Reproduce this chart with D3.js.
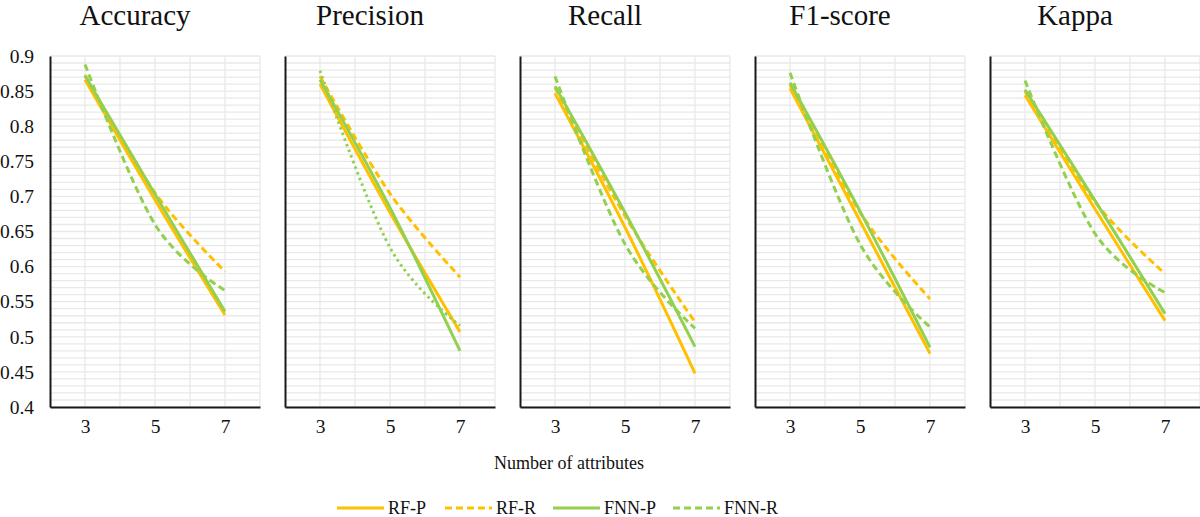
<!DOCTYPE html>
<html>
<head>
<meta charset="utf-8">
<script src="https://cdn.jsdelivr.net/npm/d3@7"></script>
<style>
  body { margin: 0; background: #fff; }
  svg { display: block; }
  svg text { font-family: "Liberation Serif", "Times New Roman", serif; fill: #111; }
</style>
</head>
<body>
<div id="chart"></div>
<script>
// data, one row per metric, values at 3, 5, 7 attributes
const metrics = ["Accuracy", "Precision", "Recall", "F1-score", "Kappa"];
const attributes = [3, 5, 7];
const xTicks = [3, 5, 7];
const seriesNames = ["RF-P", "RF-R", "FNN-P", "FNN-R"];

const rfP = [
  [0.866, 0.695, 0.531],
  [0.860, 0.677, 0.507],
  [0.847, 0.656, 0.448],
  [0.854, 0.665, 0.476],
  [0.844, 0.682, 0.523]
];
const rfR = [
  [0.873, 0.705, 0.593],
  [0.871, 0.704, 0.585],
  [0.855, 0.672, 0.521],
  [0.859, 0.677, 0.554],
  [0.850, 0.692, 0.590]
];
const fnnP = [
  [0.872, 0.703, 0.536],
  [0.866, 0.684, 0.480],
  [0.857, 0.677, 0.486],
  [0.862, 0.679, 0.485],
  [0.852, 0.694, 0.533]
];
const fnnR = [
  [0.888, 0.660, 0.566],
  [0.879, 0.627, 0.516],
  [0.871, 0.632, 0.512],
  [0.876, 0.632, 0.514],
  [0.865, 0.647, 0.563]
];

var width = 1200,
height = 517,
plotW = 210,
plotTop = 56,
plotBottom = 407;

var colors = ["#FFC000", "#FFC000", "#92D050", "#92D050"],
dashes = [null, "7,4", null, "7,4"],
allSeries = [rfP, rfR, fnnP, fnnR];

var svg = d3.select("#chart")
  .append("svg")
  .attr("width", width)
  .attr("height", height);

var y = d3.scaleLinear()
  .domain([0.4, 0.9])
  .range([plotBottom, plotTop]);

var line = d3.line()
  .curve(d3.curveCardinal.tension(0))
  .x(function(d) { return d.x; })
  .y(function(d) { return d.y; });

metrics.forEach(function(name, m) {
  var left = 50 + m * 235;

  var x = d3.scaleLinear()
    .domain([2, 8])
    .range([left, left + plotW]);

  var g = svg.append("g");

  // horizontal grid every 0.01
  g.append("g")
    .selectAll("line")
    .data(y.ticks(50))
    .enter().append("line")
    .attr("x1", left)
    .attr("x2", left + plotW)
    .attr("y1", function(d) { return y(d); })
    .attr("y2", function(d) { return y(d); })
    .style("stroke", "#e9e9e9")
    .style("stroke-width", 1.3);

  // vertical grid
  g.append("g")
    .selectAll("line")
    .data(d3.range(3, 9))
    .enter().append("line")
    .attr("x1", function(d) { return x(d); })
    .attr("x2", function(d) { return x(d); })
    .attr("y1", plotTop)
    .attr("y2", plotBottom)
    .style("stroke", "#e9e9e9")
    .style("stroke-width", 1.3);

  // lines
  allSeries.forEach(function(series, s) {
    var pts = attributes.map(function(a, i) {
      return {x: x(a), y: y(series[m][i])};
    });
    var dash = dashes[s];
    if (name === "Precision" && s === 3) dash = "2.5,3.5";
    g.append("path")
      .attr("d", line(pts))
      .style("fill", "none")
      .style("stroke", colors[s])
      .style("stroke-width", 3)
      .style("stroke-dasharray", dash);
  });

  // axes
  var yAxis = d3.axisLeft(y)
    .tickValues(m === 0 ? d3.range(0.4, 0.901, 0.05) : [])
    .tickSize(0)
    .tickSizeOuter(0)
    .tickPadding(16)
    .tickFormat(function(d) { return String(+d.toFixed(2)); });

  var yg = g.append("g")
    .attr("transform", `translate(${left}, 0)`)
    .call(yAxis);

  var xAxis = d3.axisBottom(x)
    .tickValues(xTicks)
    .tickSize(0)
    .tickSizeOuter(0)
    .tickPadding(12)
    .tickFormat(d3.format("d"));

  var xg = g.append("g")
    .attr("transform", `translate(0, ${plotBottom})`)
    .call(xAxis);

  [yg, xg].forEach(function(a) {
    a.select(".domain").style("stroke", "#1a1a1a").style("stroke-width", 2);
    a.selectAll("text")
      .style("font-size", "19.5px");
  });

  g.append("text")
    .attr("x", left + plotW / 2 - 20)
    .attr("y", 25)
    .attr("text-anchor", "middle")
    .style("font-size", "29px")
    .text(name);
});

svg.append("text")
  .attr("x", 569)
  .attr("y", 469)
  .attr("text-anchor", "middle")
  .style("font-size", "18px")
  .text("Number of attributes");

// legend
var legendX = [337, 445, 553, 673];
var legend = svg.append("g")
  .selectAll("g")
  .data(seriesNames)
  .enter().append("g")
  .attr("transform", function(d, i) { return `translate(${legendX[i]}, 508)`; });

legend.append("line")
  .attr("x1", 0)
  .attr("x2", 47)
  .style("stroke", function(d, i) { return colors[i]; })
  .style("stroke-width", 3)
  .style("stroke-dasharray", function(d, i) { return dashes[i]; });

legend.append("text")
  .attr("x", 51)
  .attr("y", 6)
  .style("font-size", "18px")
  .text(function(d) { return d; });
</script>
</body>
</html>
